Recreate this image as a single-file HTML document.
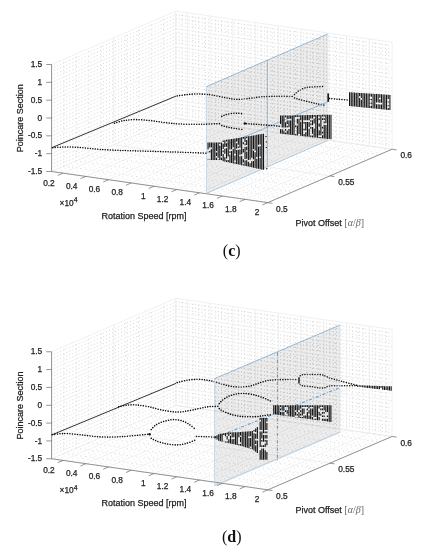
<!DOCTYPE html>
<html><head><meta charset="utf-8"><title>Figure</title>
<style>
html,body{margin:0;padding:0;background:#fff;}
body{width:428px;height:550px;overflow:hidden;position:relative;font-family:"Liberation Sans",sans-serif;}
svg{position:absolute;left:0;top:0;display:block;}
.tk{font-family:"Liberation Sans",sans-serif;font-size:8.3px;fill:#222;stroke:#222;stroke-width:0.25px;}
.lb{font-family:"Liberation Sans",sans-serif;font-size:9px;fill:#222;stroke:#222;stroke-width:0.25px;}
.mi{font-family:"Liberation Serif","DejaVu Serif",serif;font-style:italic;font-size:10px;fill:#666;stroke:none;}
.mr{font-family:"Liberation Serif",serif;font-size:10px;fill:#666;stroke:none;}
.cap{font-family:"Liberation Serif",serif;font-size:16px;fill:#111;}
</style></head><body>
<svg width="428" height="550" viewBox="0 0 428 550">
<rect width="428" height="550" fill="#fff"/>
<defs><path id="minor" d="M176.03,118.12 L176.03,11.12M181.71,118.94 L181.71,11.94M193.09,120.57 L193.09,13.57M198.77,121.39 L198.77,14.39M204.46,122.21 L204.46,15.21M215.83,123.84 L215.83,16.84M221.52,124.66 L221.52,17.66M227.2,125.48 L227.2,18.48M238.57,127.12 L238.57,20.12M244.26,127.93 L244.26,20.93M249.95,128.75 L249.95,21.75M261.32,130.39 L261.32,23.39M267.01,131.21 L267.01,24.21M272.69,132.02 L272.69,25.02M284.06,133.66 L284.06,26.66M289.75,134.48 L289.75,27.48M295.44,135.3 L295.44,28.3M306.81,136.93 L306.81,29.93M312.49,137.75 L312.49,30.75M318.18,138.57 L318.18,31.57M329.55,140.2 L329.55,33.2M335.24,141.02 L335.24,34.02M340.93,141.84 L340.93,34.84M352.3,143.47 L352.3,36.47M357.98,144.29 L357.98,37.29M363.67,145.11 L363.67,38.11M375.04,146.75 L375.04,39.75M380.73,147.56 L380.73,40.56M386.41,148.38 L386.41,41.38M64.03,166.16 L64.03,59.16M76.46,160.82 L76.46,53.82M88.89,155.48 L88.89,48.48M101.32,150.14 L101.32,43.14M126.18,139.46 L126.18,32.46M138.61,134.12 L138.61,27.12M151.04,128.78 L151.04,21.78M163.47,123.44 L163.47,16.44" fill="none" stroke-width="0.95" stroke-linecap="round" stroke-dasharray="0.01 4.7"/><path id="slope" d="M175.9,114.53 L392.1,145.63M51.6,167.93 L175.9,114.53M175.9,110.97 L392.1,142.07M51.6,164.37 L175.9,110.97M175.9,107.4 L392.1,138.5M51.6,160.8 L175.9,107.4M175.9,103.83 L392.1,134.93M51.6,157.23 L175.9,103.83M175.9,96.7 L392.1,127.8M51.6,150.1 L175.9,96.7M175.9,93.13 L392.1,124.23M51.6,146.53 L175.9,93.13M175.9,89.57 L392.1,120.67M51.6,142.97 L175.9,89.57M175.9,86 L392.1,117.1M51.6,139.4 L175.9,86M175.9,78.87 L392.1,109.97M51.6,132.27 L175.9,78.87M175.9,75.3 L392.1,106.4M51.6,128.7 L175.9,75.3M175.9,71.73 L392.1,102.83M51.6,125.13 L175.9,71.73M175.9,68.17 L392.1,99.27M51.6,121.57 L175.9,68.17M175.9,61.03 L392.1,92.13M51.6,114.43 L175.9,61.03M175.9,57.47 L392.1,88.57M51.6,110.87 L175.9,57.47M175.9,53.9 L392.1,85M51.6,107.3 L175.9,53.9M175.9,50.33 L392.1,81.43M51.6,103.73 L175.9,50.33M175.9,43.2 L392.1,74.3M51.6,96.6 L175.9,43.2M175.9,39.63 L392.1,70.73M51.6,93.03 L175.9,39.63M175.9,36.07 L392.1,67.17M51.6,89.47 L175.9,36.07M175.9,32.5 L392.1,63.6M51.6,85.9 L175.9,32.5M175.9,25.37 L392.1,56.47M51.6,78.77 L175.9,25.37M175.9,21.8 L392.1,52.9M51.6,75.2 L175.9,21.8M175.9,18.23 L392.1,49.33M51.6,71.63 L175.9,18.23M175.9,14.67 L392.1,45.77M51.6,68.07 L175.9,14.67" fill="none" stroke-width="0.95" stroke-linecap="round" stroke-dasharray="0.01 3.3"/><path id="floor" d="M51.73,171.52 L176.03,118.12M57.41,172.34 L181.71,118.94M68.79,173.97 L193.09,120.57M74.47,174.79 L198.77,121.39M80.16,175.61 L204.46,122.21M91.53,177.24 L215.83,123.84M97.22,178.06 L221.52,124.66M102.9,178.88 L227.2,125.48M114.28,180.52 L238.57,127.12M119.96,181.33 L244.26,127.93M125.65,182.15 L249.95,128.75M137.02,183.79 L261.32,130.39M142.71,184.61 L267.01,131.21M148.39,185.42 L272.69,132.02M159.76,187.06 L284.06,133.66M165.45,187.88 L289.75,134.48M171.14,188.7 L295.44,135.3M182.51,190.33 L306.81,136.93M188.19,191.15 L312.49,137.75M193.88,191.97 L318.18,138.57M205.25,193.6 L329.55,140.2M210.94,194.42 L335.24,141.02M216.62,195.24 L340.93,141.84M228,196.87 L352.3,143.47M233.68,197.69 L357.98,144.29M239.37,198.51 L363.67,145.11M250.74,200.15 L375.04,146.75M256.43,200.96 L380.73,147.56M262.11,201.78 L386.41,148.38M64.03,166.16 L280.23,197.26M76.46,160.82 L292.66,191.92M88.89,155.48 L305.09,186.58M101.32,150.14 L317.52,181.24M126.18,139.46 L342.38,170.56M138.61,134.12 L354.81,165.22M151.04,128.78 L367.24,159.88M163.47,123.44 L379.67,154.54" fill="none" stroke-width="0.95" stroke-linecap="round" stroke-dasharray="0.01 4.3"/></defs>
<g>
<use href="#minor" stroke="#c8c8c8"/>
<use href="#slope" stroke="#c8c8c8"/>
<use href="#floor" stroke="#d6d6d6"/>
<path d="M187.4,119.75 L187.4,12.75M63.1,173.15 L187.4,119.75M210.14,123.03 L210.14,16.03M85.84,176.43 L210.14,123.03M232.89,126.3 L232.89,19.3M108.59,179.7 L232.89,126.3M255.63,129.57 L255.63,22.57M131.33,182.97 L255.63,129.57M278.38,132.84 L278.38,25.84M154.08,186.24 L278.38,132.84M301.12,136.11 L301.12,29.11M176.82,189.51 L301.12,136.11M323.87,139.38 L323.87,32.38M199.57,192.78 L323.87,139.38M346.61,142.66 L346.61,35.66M222.31,196.06 L346.61,142.66M369.36,145.93 L369.36,38.93M245.06,199.33 L369.36,145.93M392.1,149.2 L392.1,42.2M267.8,202.6 L392.1,149.2M175.9,118.1 L392.1,149.2M51.6,171.5 L175.9,118.1M175.9,100.27 L392.1,131.37M51.6,153.67 L175.9,100.27M175.9,82.43 L392.1,113.53M51.6,135.83 L175.9,82.43M175.9,64.6 L392.1,95.7M51.6,118 L175.9,64.6M175.9,46.77 L392.1,77.87M51.6,100.17 L175.9,46.77M175.9,28.93 L392.1,60.03M51.6,82.33 L175.9,28.93M175.9,11.1 L392.1,42.2M51.6,64.5 L175.9,11.1M51.6,171.5 L51.6,64.5M51.6,171.5 L267.8,202.6M113.75,144.8 L113.75,37.8M113.75,144.8 L329.95,175.9M175.9,118.1 L175.9,11.1M175.9,118.1 L392.1,149.2" fill="none" stroke="#eaeaea" stroke-width="0.7"/>
<path d="M51.6,64.5 L51.6,171.5 L267.8,202.6 L392.1,149.2" fill="none" stroke="#6a6a6a" stroke-width="0.7"/>
<path d="M51.6,171.5 L46.2,171.5M51.6,153.67 L46.2,153.67M51.6,135.83 L46.2,135.83M51.6,118 L46.2,118M51.6,100.17 L46.2,100.17M51.6,82.33 L46.2,82.33M51.6,64.5 L46.2,64.5M63.1,173.15 L57.7,175.45M85.84,176.43 L80.44,178.73M108.59,179.7 L103.19,182M131.33,182.97 L125.93,185.27M154.08,186.24 L148.68,188.54M176.82,189.51 L171.42,191.81M199.57,192.78 L194.17,195.08M222.31,196.06 L216.91,198.36M245.06,199.33 L239.66,201.63M267.8,202.6 L262.4,204.9M267.8,202.6 L272.4,203.3M329.95,175.9 L334.55,176.6M392.1,149.2 L396.7,149.9" fill="none" stroke="#6a6a6a" stroke-width="0.7"/>
<text x="42.2" y="174.1" text-anchor="end" class="tk">-1.5</text>
<text x="42.2" y="156.27" text-anchor="end" class="tk">-1</text>
<text x="42.2" y="138.43" text-anchor="end" class="tk">-0.5</text>
<text x="42.2" y="120.6" text-anchor="end" class="tk">0</text>
<text x="42.2" y="102.77" text-anchor="end" class="tk">0.5</text>
<text x="42.2" y="84.93" text-anchor="end" class="tk">1</text>
<text x="42.2" y="67.1" text-anchor="end" class="tk">1.5</text>
<text x="54.7" y="185.55" text-anchor="end" class="tk">0.2</text>
<text x="77.44" y="188.83" text-anchor="end" class="tk">0.4</text>
<text x="100.19" y="192.1" text-anchor="end" class="tk">0.6</text>
<text x="122.93" y="195.37" text-anchor="end" class="tk">0.8</text>
<text x="145.68" y="198.64" text-anchor="end" class="tk">1</text>
<text x="168.42" y="201.91" text-anchor="end" class="tk">1.2</text>
<text x="191.17" y="205.18" text-anchor="end" class="tk">1.4</text>
<text x="213.91" y="208.46" text-anchor="end" class="tk">1.6</text>
<text x="236.66" y="211.73" text-anchor="end" class="tk">1.8</text>
<text x="259.4" y="215" text-anchor="end" class="tk">2</text>
<text x="276.1" y="211.8" text-anchor="start" class="tk">0.5</text>
<text x="338.25" y="185.1" text-anchor="start" class="tk">0.55</text>
<text x="400.4" y="158.4" text-anchor="start" class="tk">0.6</text>
<text x="59.6" y="205.8" class="tk">×10<tspan dy="-3.4" font-size="6.8">4</tspan></text>
<text x="144" y="218.6" text-anchor="middle" class="lb">Rotation Speed [rpm]</text>
<text x="295.5" y="225.8" class="lb">Pivot Offset <tspan class="mr">[</tspan><tspan class="mi">α</tspan><tspan class="mr">/</tspan><tspan class="mi">β</tspan><tspan class="mr">]</tspan></text>
<text transform="translate(23.3,118.3) rotate(-90)" text-anchor="middle" class="lb">Poincare Section</text>
<line x1="51.5" y1="147.8" x2="176" y2="96.1" stroke="#333" stroke-width="1" />
<path d="M177.2,95.9 C178.67,95.7 183.03,95.02 186,94.7 C188.97,94.38 192,94.08 195,94 C198,93.92 201.17,94.03 204,94.2 C206.83,94.37 208.33,94.4 212,95 C215.67,95.6 221.83,97.07 226,97.8 C230.17,98.53 233,99.32 237,99.4 C241,99.48 245.83,98.73 250,98.3 C254.17,97.87 257.33,97.13 262,96.8 C266.67,96.47 272.77,96.35 278,96.3 C283.23,96.25 290.83,96.47 293.4,96.5" stroke="#0a0a0a" stroke-width="1.55" stroke-linecap="round" stroke-dasharray="0.01 2.5" fill="none"/>
<path d="M294.5,94.5 C295.08,93.97 296.58,92.28 298,91.3 C299.42,90.32 301.33,89.27 303,88.6 C304.67,87.93 305.83,87.6 308,87.3 C310.17,87 313.17,86.93 316,86.8 C318.83,86.67 323.5,86.55 325,86.5" stroke="#0a0a0a" stroke-width="1.55" stroke-linecap="round" stroke-dasharray="0.01 2.5" fill="none"/>
<path d="M294.5,98 C295.42,98.27 297.42,98.9 300,99.6 C302.58,100.3 307,101.47 310,102.2 C313,102.93 315.33,103.45 318,104 C320.67,104.55 324.67,105.25 326,105.5" stroke="#0a0a0a" stroke-width="1.55" stroke-linecap="round" stroke-dasharray="0.01 2.5" fill="none"/>
<path d="M329.5,98.6 C330.92,98.72 334.82,99.07 338,99.3 C341.18,99.53 346.83,99.88 348.6,100" stroke="#0a0a0a" stroke-width="1.55" stroke-linecap="round" stroke-dasharray="0.01 2.5" fill="none"/>
<path d="M349.56,92.24V106.06M351.24,92.35V106.22M352.92,92.46V106.39M354.6,92.57V106.55M356.28,92.68V106.72M357.96,92.79V106.89M359.64,92.9V96.3M359.64,98V107.05M361.32,93.01V98.11M361.32,99.81V107.22M363,93.12V107.39M364.68,93.24V107.55M366.36,93.35V107.72M368.04,93.46V107.89M369.72,93.57V108.05M371.4,93.68V97.08M371.4,98.78V108.22M373.08,93.79V108.39M374.76,93.9V108.55M376.44,94.01V102.51M376.44,104.21V108.72M378.12,94.12V102.62M378.12,104.32V108.88M379.8,94.23V97.63M379.8,99.33V102.73M379.8,104.43V109.05M381.48,94.34V102.84M381.48,104.54V109.22M383.16,94.46V109.38M384.84,94.57V109.55M386.52,94.68V109.72M388.2,94.79V109.88M389.88,94.9V110.05" stroke="#111" stroke-width="1.12" fill="none"/>
<path d="M370.7,96.5V106M388.2,99V108" stroke="#f4f4f4" stroke-width="1.9" stroke-dasharray="2.6 1"/>
<clipPath id="cp1"><polygon points="206.5,86.6 327.9,33.9 327.9,140.4 206.5,193.4"/></clipPath><polygon points="206.5,86.6 327.9,33.9 327.9,140.4 206.5,193.4" fill="rgba(100,100,100,0.12)"/><g clip-path="url(#cp1)"><use href="#minor" stroke="#c2c2c2"/><use href="#slope" stroke="#c2c2c2"/></g><line x1="206.5" y1="86.6" x2="327.9" y2="33.9" stroke="#7daacf" stroke-width="0.8" /><line x1="206.5" y1="193.4" x2="327.9" y2="140.4" stroke="#9fc0da" stroke-width="0.8" /><line x1="206.5" y1="86.6" x2="206.5" y2="193.4" stroke="#c3d3df" stroke-width="0.8" /><line x1="327.9" y1="33.9" x2="327.9" y2="140.4" stroke="#dde3e8" stroke-width="0.8" />
<line x1="267.3" y1="60.3" x2="267.3" y2="167" stroke="#7daacf" stroke-width="0.8" />
<line x1="206.2" y1="152.8" x2="327.9" y2="101.8" stroke="#7daacf" stroke-width="0.8" />
<line x1="328.2" y1="93.4" x2="328.2" y2="101.8" stroke="#1a1a1a" stroke-width="1.7" />
<path d="M114.5,123.2 C116.08,122.77 120.5,121.2 124,120.6 C127.5,120 131.17,119.6 135.5,119.6 C139.83,119.6 145.08,120.1 150,120.6 C154.92,121.1 160,122.03 165,122.6 C170,123.17 174.17,123.72 180,124 C185.83,124.28 193.33,124.37 200,124.3 C206.67,124.23 216.67,123.72 220,123.6" stroke="#0a0a0a" stroke-width="1.55" stroke-linecap="round" stroke-dasharray="0.01 2.5" fill="none"/>
<path d="M221.8,116.4 C222.5,116.1 224.3,115.1 226,114.6 C227.7,114.1 230,113.63 232,113.4 C234,113.17 236.23,113.13 238,113.2 C239.77,113.27 241.83,113.7 242.6,113.8" stroke="#0a0a0a" stroke-width="1.55" stroke-linecap="round" stroke-dasharray="0.01 2.5" fill="none"/>
<path d="M221.8,125.6 C222.83,125.87 225.63,126.7 228,127.2 C230.37,127.7 233.5,128.2 236,128.6 C238.5,129 241.83,129.43 243,129.6" stroke="#0a0a0a" stroke-width="1.55" stroke-linecap="round" stroke-dasharray="0.01 2.5" fill="none"/>
<circle cx="244.8" cy="123.5" r="1.2" fill="#111"/>
<path d="M246.5,123.6 C248.75,123.77 254.5,124.17 260,124.6 C265.5,125.03 276.25,125.93 279.5,126.2" stroke="#0a0a0a" stroke-width="1.55" stroke-linecap="round" stroke-dasharray="0.01 2.5" fill="none"/>
<path d="M280.56,115.59V124.09M280.56,129.19V133.56M282.24,115.56V127.46M282.24,129.16V133.75M283.92,115.53V127.43M283.92,130.83V133.95M285.6,115.5V117.2M285.6,122.3V127.4M285.6,129.1V130.8M285.6,132.5V134.14M287.28,115.47V118.87M287.28,120.57V123.97M287.28,125.67V127.37M287.28,130.77V134.33M288.96,115.44V118.84M288.96,120.54V127.34M288.96,129.04V134.52M290.64,115.41V118.81M290.64,120.51V134.71M292.32,115.38V134.9M294,115.35V135.09M295.68,115.32V117.02M295.68,125.52V127.22M295.68,134.02V135.28M297.36,115.29V116.99M297.36,118.69V123.79M297.36,125.49V135.47M299.04,115.26V116.96M299.04,118.66V133.96M299.04,135.66V135.67M300.72,115.23V120.33M300.72,122.03V135.86M302.4,115.2V136.05M304.08,115.18V120.28M304.08,121.98V123.68M304.08,128.78V130.48M304.08,133.88V136.24M305.76,115.15V120.25M305.76,121.95V130.45M305.76,132.15V136.43M307.44,115.12V120.22M307.44,121.92V136.62M309.12,115.09V120.19M309.12,121.89V126.99M309.12,128.69V136.81M310.8,115.06V118.46M310.8,120.16V121.86M310.8,123.56V125.26M310.8,126.96V128.66M310.8,135.46V137M312.48,115.03V118.43M312.48,120.13V125.23M312.48,126.93V133.73M312.48,135.43V137.19M314.16,115V116.7M314.16,118.4V123.5M314.16,128.6V137.38M315.84,114.97V137.58M317.52,114.94V137.77M319.2,114.91V116.61M319.2,118.31V120.01M319.2,123.41V126.81M319.2,130.21V135.31M319.2,137.01V137.96M320.88,114.88V135.28M320.88,136.98V138.15M322.56,114.85V116.55M322.56,118.25V119.95M322.56,126.75V128.45M322.56,131.85V133.55M322.56,135.25V138.34M324.24,114.82V116.52M324.24,118.22V119.92M324.24,121.62V123.32M324.24,125.02V138.53M325.92,114.79V123.29M325.92,124.99V138.72M327.6,114.76V138.91M329.28,114.73V139.1M330.96,114.7V139.3" stroke="#111" stroke-width="1.12" fill="none"/>
<path d="M52.8,147.7 C54,147.62 57.13,147.32 60,147.2 C62.87,147.08 66,146.9 70,147 C74,147.1 79,147.4 84,147.8 C89,148.2 94,148.97 100,149.4 C106,149.83 113.33,150.13 120,150.4 C126.67,150.67 133.33,150.8 140,151 C146.67,151.2 153.33,151.4 160,151.6 C166.67,151.8 172.25,151.93 180,152.2 C187.75,152.47 202.08,153.03 206.5,153.2" stroke="#0a0a0a" stroke-width="1.55" stroke-linecap="round" stroke-dasharray="0.01 2.5" fill="none"/>
<path d="M208.06,142.4V149.2M208.06,159.4V160M209.74,142.4V147.5M209.74,150.9V152.6M209.74,159.4V160M211.42,142.4V147.5M211.42,149.2V160M213.1,142.4V160M214.78,142.4V160M216.46,142.4V150.9M216.46,152.6V156M216.46,157.7V160M218.14,142.4V157.7M218.14,159.4V160M219.82,142.4V144.1M219.82,145.8V160M221.5,142.4V156M221.5,157.7V160M223.18,140.42V142.12M223.18,143.82V148.92M223.18,150.62V152.32M223.18,154.02V161.23M224.86,140.14V146.94M224.86,148.64V153.74M224.86,157.14V161.59M226.54,139.87V141.57M226.54,143.27V146.67M226.54,148.37V158.57M226.54,160.27V161.95M228.22,139.59V156.59M228.22,159.99V162.3M229.9,139.31V149.51M229.9,151.21V152.91M229.9,154.61V162.66M231.58,139.03V149.23M231.58,150.93V163.02M233.26,138.75V147.25M233.26,148.95V163.38M234.94,138.48V153.78M234.94,155.48V160.58M234.94,162.28V163.74M236.62,138.2V141.6M236.62,143.3V148.4M236.62,150.1V164.09M238.3,137.92V144.72M238.3,146.42V148.12M238.3,149.82V164.45M239.98,137.64V147.84M239.98,149.54V154.64M239.98,156.34V164.81M241.66,137.36V154.36M241.66,156.06V165.17M243.34,137.09V138.79M243.34,142.19V143.89M243.34,148.99V152.39M243.34,159.19V162.59M243.34,164.29V165.52M245.02,136.81V141.91M245.02,143.61V145.31M245.02,147.01V158.91M245.02,160.61V165.88M246.7,136.53V138.23M246.7,139.93V145.03M246.7,146.73V150.13M246.7,151.83V158.63M246.7,160.33V166.24M248.38,136.25V160.05M248.38,161.75V166.6M250.06,135.98V159.78M250.06,163.18V166.96M251.74,135.7V157.8M251.74,161.2V167.31M253.42,135.42V149.02M253.42,150.72V159.22M253.42,160.92V167.67M255.1,135.14V150.44M255.1,152.14V168.03M256.78,134.86V156.96M256.78,158.66V168.39M258.46,134.59V144.79M258.46,146.49V168.75M260.14,134.31V144.51M260.14,146.21V156.41M260.14,158.11V169.1M261.82,134.03V169.46M263.5,133.8V169.75" stroke="#111" stroke-width="1.12" fill="none"/>
<path d="M266.3,141.5v1M266.3,147v1M266.8,168v1.2M266,136v1" stroke="#111" stroke-width="1.2"/>
</g>
<g transform="translate(0,287.25)">
<use href="#minor" stroke="#c8c8c8"/>
<use href="#slope" stroke="#c8c8c8"/>
<use href="#floor" stroke="#d6d6d6"/>
<path d="M187.4,119.75 L187.4,12.75M63.1,173.15 L187.4,119.75M210.14,123.03 L210.14,16.03M85.84,176.43 L210.14,123.03M232.89,126.3 L232.89,19.3M108.59,179.7 L232.89,126.3M255.63,129.57 L255.63,22.57M131.33,182.97 L255.63,129.57M278.38,132.84 L278.38,25.84M154.08,186.24 L278.38,132.84M301.12,136.11 L301.12,29.11M176.82,189.51 L301.12,136.11M323.87,139.38 L323.87,32.38M199.57,192.78 L323.87,139.38M346.61,142.66 L346.61,35.66M222.31,196.06 L346.61,142.66M369.36,145.93 L369.36,38.93M245.06,199.33 L369.36,145.93M392.1,149.2 L392.1,42.2M267.8,202.6 L392.1,149.2M175.9,118.1 L392.1,149.2M51.6,171.5 L175.9,118.1M175.9,100.27 L392.1,131.37M51.6,153.67 L175.9,100.27M175.9,82.43 L392.1,113.53M51.6,135.83 L175.9,82.43M175.9,64.6 L392.1,95.7M51.6,118 L175.9,64.6M175.9,46.77 L392.1,77.87M51.6,100.17 L175.9,46.77M175.9,28.93 L392.1,60.03M51.6,82.33 L175.9,28.93M175.9,11.1 L392.1,42.2M51.6,64.5 L175.9,11.1M51.6,171.5 L51.6,64.5M51.6,171.5 L267.8,202.6M113.75,144.8 L113.75,37.8M113.75,144.8 L329.95,175.9M175.9,118.1 L175.9,11.1M175.9,118.1 L392.1,149.2" fill="none" stroke="#eaeaea" stroke-width="0.7"/>
<path d="M51.6,64.5 L51.6,171.5 L267.8,202.6 L392.1,149.2" fill="none" stroke="#6a6a6a" stroke-width="0.7"/>
<path d="M51.6,171.5 L46.2,171.5M51.6,153.67 L46.2,153.67M51.6,135.83 L46.2,135.83M51.6,118 L46.2,118M51.6,100.17 L46.2,100.17M51.6,82.33 L46.2,82.33M51.6,64.5 L46.2,64.5M63.1,173.15 L57.7,175.45M85.84,176.43 L80.44,178.73M108.59,179.7 L103.19,182M131.33,182.97 L125.93,185.27M154.08,186.24 L148.68,188.54M176.82,189.51 L171.42,191.81M199.57,192.78 L194.17,195.08M222.31,196.06 L216.91,198.36M245.06,199.33 L239.66,201.63M267.8,202.6 L262.4,204.9M267.8,202.6 L272.4,203.3M329.95,175.9 L334.55,176.6M392.1,149.2 L396.7,149.9" fill="none" stroke="#6a6a6a" stroke-width="0.7"/>
<text x="42.2" y="174.1" text-anchor="end" class="tk">-1.5</text>
<text x="42.2" y="156.27" text-anchor="end" class="tk">-1</text>
<text x="42.2" y="138.43" text-anchor="end" class="tk">-0.5</text>
<text x="42.2" y="120.6" text-anchor="end" class="tk">0</text>
<text x="42.2" y="102.77" text-anchor="end" class="tk">0.5</text>
<text x="42.2" y="84.93" text-anchor="end" class="tk">1</text>
<text x="42.2" y="67.1" text-anchor="end" class="tk">1.5</text>
<text x="54.7" y="185.55" text-anchor="end" class="tk">0.2</text>
<text x="77.44" y="188.83" text-anchor="end" class="tk">0.4</text>
<text x="100.19" y="192.1" text-anchor="end" class="tk">0.6</text>
<text x="122.93" y="195.37" text-anchor="end" class="tk">0.8</text>
<text x="145.68" y="198.64" text-anchor="end" class="tk">1</text>
<text x="168.42" y="201.91" text-anchor="end" class="tk">1.2</text>
<text x="191.17" y="205.18" text-anchor="end" class="tk">1.4</text>
<text x="213.91" y="208.46" text-anchor="end" class="tk">1.6</text>
<text x="236.66" y="211.73" text-anchor="end" class="tk">1.8</text>
<text x="259.4" y="215" text-anchor="end" class="tk">2</text>
<text x="276.1" y="211.8" text-anchor="start" class="tk">0.5</text>
<text x="338.25" y="185.1" text-anchor="start" class="tk">0.55</text>
<text x="400.4" y="158.4" text-anchor="start" class="tk">0.6</text>
<text x="59.6" y="205.8" class="tk">×10<tspan dy="-3.4" font-size="6.8">4</tspan></text>
<text x="144" y="218.6" text-anchor="middle" class="lb">Rotation Speed [rpm]</text>
<text x="295.5" y="225.8" class="lb">Pivot Offset <tspan class="mr">[</tspan><tspan class="mi">α</tspan><tspan class="mr">/</tspan><tspan class="mi">β</tspan><tspan class="mr">]</tspan></text>
<text transform="translate(23.3,118.3) rotate(-90)" text-anchor="middle" class="lb">Poincare Section</text>
<line x1="51.5" y1="147.8" x2="176" y2="96.1" stroke="#333" stroke-width="1" />
<path d="M177.2,95.35 C178.67,94.98 182.73,93.7 186,93.15 C189.27,92.6 193.47,92.12 196.8,92.05 C200.13,91.98 203.2,92.38 206,92.75 C208.8,93.12 210.93,93.58 213.6,94.25 C216.27,94.92 219.2,95.97 222,96.75 C224.8,97.53 227.4,98.45 230.4,98.95 C233.4,99.45 236.73,99.78 240,99.75 C243.27,99.72 247,99.35 250,98.75 C253,98.15 255.22,97.03 258,96.15 C260.78,95.27 263.87,94.05 266.7,93.45 C269.53,92.85 271.78,92.73 275,92.55 C278.22,92.37 282.17,92.38 286,92.35 C289.83,92.32 296,92.35 298,92.35" stroke="#0a0a0a" stroke-width="1.55" stroke-linecap="round" stroke-dasharray="0.01 2.5" fill="none"/>
<line x1="299" y1="89.95" x2="299" y2="96.35" stroke="#222" stroke-width="1.6" />
<path d="M300.3,88.55 C300.68,88.37 300.98,87.68 302.6,87.45 C304.22,87.22 306.93,87.15 310,87.15 C313.07,87.15 318.33,87.12 321,87.45 C323.67,87.78 324.43,88.57 326,89.15 C327.57,89.73 328.4,90.3 330.4,90.95 C332.4,91.6 335.57,92.38 338,93.05 C340.43,93.72 341.83,94.1 345,94.95 C348.17,95.8 355,97.62 357,98.15" stroke="#0a0a0a" stroke-width="1.55" stroke-linecap="round" stroke-dasharray="0.01 2.5" fill="none"/>
<path d="M300.3,97.35 C300.68,97.55 300.65,98.18 302.6,98.55 C304.55,98.92 309.1,99.18 312,99.55 C314.9,99.92 317.87,100.6 320,100.75 C322.13,100.9 323.25,100.78 324.8,100.45 C326.35,100.12 326.77,99.07 329.3,98.75 C331.83,98.43 335.38,98.58 340,98.55 C344.62,98.52 354.17,98.55 357,98.55" stroke="#0a0a0a" stroke-width="1.55" stroke-linecap="round" stroke-dasharray="0.01 2.5" fill="none"/>
<path d="M357.56,97.97V99.42M359.24,98.03V99.62M360.92,98.08V99.82M362.6,98.14V100.02M364.28,98.2V100.22M365.96,98.26V100.43M367.64,98.31V100.63M369.32,98.37V100.83M371,98.43V101.03M372.68,98.49V101.23M374.36,98.55V101.43M376.04,98.6V101.63M377.72,98.66V101.84M379.4,98.72V102.04M381.08,98.78V100.48M381.08,102.18V102.24M382.76,98.83V102.44M384.44,98.89V102.64M386.12,98.95V102.84M387.8,99.01V103.05M389.48,99.06V103.25M391.16,99.12V103.45" stroke="#111" stroke-width="1.12" fill="none"/>
<clipPath id="cp2"><polygon points="214.5,91.45 340,37.75 340,144.75 214.5,198.45"/></clipPath><polygon points="214.5,91.45 340,37.75 340,144.75 214.5,198.45" fill="rgba(100,100,100,0.12)"/><g clip-path="url(#cp2)"><use href="#minor" stroke="#c2c2c2"/><use href="#slope" stroke="#c2c2c2"/></g><line x1="214.5" y1="91.45" x2="340" y2="37.75" stroke="#7daacf" stroke-width="0.8" /><line x1="214.5" y1="198.45" x2="340" y2="144.75" stroke="#9fc0da" stroke-width="0.8" /><line x1="214.5" y1="91.45" x2="214.5" y2="198.45" stroke="#c3d3df" stroke-width="0.8" /><line x1="340" y1="37.75" x2="340" y2="144.75" stroke="#dde3e8" stroke-width="0.8" />
<line x1="277.4" y1="65.35" x2="277.4" y2="173.75" stroke="#5f9bd0" stroke-width="1.05" stroke-dasharray="3.2 1.6 0.9 1.6"/>
<line x1="214" y1="150.95" x2="338.5" y2="100.95" stroke="#5f9bd0" stroke-width="1.05" stroke-dasharray="3.2 1.6 0.9 1.6"/>
<path d="M118.7,119.45 C119.92,119.22 123.2,118.35 126,118.05 C128.8,117.75 131.83,117.43 135.5,117.65 C139.17,117.87 143.63,118.5 148,119.35 C152.37,120.2 156.8,121.83 161.7,122.75 C166.6,123.67 172.68,124.77 177.4,124.85 C182.12,124.93 185.95,123.95 190,123.25 C194.05,122.55 198.37,121.3 201.7,120.65 C205.03,120 207.15,119.62 210,119.35 C212.85,119.08 217.33,119.1 218.8,119.05" stroke="#0a0a0a" stroke-width="1.55" stroke-linecap="round" stroke-dasharray="0.01 2.5" fill="none"/>
<path d="M219.3,116.35 C219.75,115.83 220.55,114.42 222,113.25 C223.45,112.08 225.83,110.4 228,109.35 C230.17,108.3 232.6,107.48 235,106.95 C237.4,106.42 239.57,106.12 242.4,106.15 C245.23,106.18 248.73,106.5 252,107.15 C255.27,107.8 258.62,108.82 262,110.05 C265.38,111.28 270.58,113.8 272.3,114.55" stroke="#0a0a0a" stroke-width="1.55" stroke-linecap="round" stroke-dasharray="0.01 2.5" fill="none"/>
<path d="M219.3,121.35 C219.75,121.68 220.22,122.45 222,123.35 C223.78,124.25 227.33,125.85 230,126.75 C232.67,127.65 235.33,128.28 238,128.75 C240.67,129.22 243,129.45 246,129.55 C249,129.65 253,129.55 256,129.35 C259,129.15 261.33,128.72 264,128.35 C266.67,127.98 270.67,127.35 272,127.15" stroke="#0a0a0a" stroke-width="1.55" stroke-linecap="round" stroke-dasharray="0.01 2.5" fill="none"/>
<path d="M273.76,117.95V127.12M275.44,117.95V127.35M277.12,117.95V127.57M278.8,117.95V127.79M280.48,117.95V119.65M280.48,121.35V123.05M280.48,124.75V128.01M282.16,117.95V123.05M282.16,124.75V128.23M283.84,117.95V123.05M283.84,124.75V128.46M285.52,117.95V119.65M285.52,123.05V124.75M285.52,128.15V128.68M287.2,117.95V119.65M287.2,123.05V126.45M287.2,128.15V128.9M288.88,117.95V129.12M290.56,117.95V129.34M292.24,117.95V129.56M293.92,117.95V129.79M295.6,117.95V123.05M295.6,124.75V128.15M295.6,129.85V130.01M297.28,117.95V124.75M297.28,126.45V128.15M297.28,129.85V130.23M298.96,117.95V123.05M298.96,124.75V130.45M300.64,117.95V121.35M300.64,123.05V124.75M300.64,126.45V128.15M300.64,129.85V130.67M302.32,117.95V119.65M302.32,121.35V128.15M302.32,129.85V130.9M304,117.95V119.65M304,121.35V126.45M304,128.15V131.12M305.68,117.95V119.65M305.68,128.15V131.34M307.36,117.95V119.65M307.36,121.35V123.05M307.36,124.75V131.56M309.04,117.95V121.35M309.04,123.05V126.45M309.04,128.15V131.78M310.72,117.95V119.65M310.72,121.35V132.01M312.4,117.95V119.65M312.4,121.35V128.15M312.4,129.85V132.23M314.08,117.95V129.85M314.08,131.55V132.45M315.76,117.95V129.85M315.76,131.55V132.67M317.44,117.95V132.89M319.12,117.95V121.35M319.12,124.75V128.15M319.12,129.85V133.11M320.8,117.95V119.65M320.8,121.35V123.05M320.8,126.45V128.15M320.8,133.25V133.34M322.48,117.95V119.65M322.48,121.35V123.05M322.48,124.75V126.45M322.48,128.15V129.85M322.48,131.55V133.56M324.16,117.95V123.05M324.16,124.75V126.45M324.16,128.15V129.85M324.16,131.55V133.78M325.84,117.95V124.75M325.84,131.55V134M327.52,117.95V124.75M327.52,128.15V129.85M327.52,131.55V134.22M329.2,117.95V134.45M330.88,117.95V134.67" stroke="#111" stroke-width="1.12" fill="none"/>
<path d="M52.5,147.35 C53.75,147.22 57.42,146.72 60,146.55 C62.58,146.38 64,146.12 68,146.35 C72,146.58 78.67,147.4 84,147.95 C89.33,148.5 94.83,149.35 100,149.65 C105.17,149.95 110,149.9 115,149.75 C120,149.6 124.28,149.22 130,148.75 C135.72,148.28 146.08,147.25 149.3,146.95" stroke="#0a0a0a" stroke-width="1.55" stroke-linecap="round" stroke-dasharray="0.01 2.5" fill="none"/>
<circle cx="149.6" cy="146.95" r="1.2" fill="#111"/>
<path d="M151.2,142.25 C151.83,141.6 153.37,139.53 155,138.35 C156.63,137.17 158.95,135.98 161,135.15 C163.05,134.32 165.2,133.82 167.3,133.35 C169.4,132.88 171.32,132.35 173.6,132.35 C175.88,132.35 178.6,132.68 181,133.35 C183.4,134.02 185.65,134.95 188,136.35 C190.35,137.75 193.92,140.85 195.1,141.75" stroke="#0a0a0a" stroke-width="1.55" stroke-linecap="round" stroke-dasharray="0.01 2.5" fill="none"/>
<path d="M151.2,151.05 C152,151.47 153.7,152.67 156,153.55 C158.3,154.43 161.75,155.67 165,156.35 C168.25,157.03 172.17,157.62 175.5,157.65 C178.83,157.68 181.73,157.33 185,156.55 C188.27,155.77 193.42,153.55 195.1,152.95" stroke="#0a0a0a" stroke-width="1.55" stroke-linecap="round" stroke-dasharray="0.01 2.5" fill="none"/>
<path d="M196.5,149.15 C197.92,149.2 201.95,149.35 205,149.45 C208.05,149.55 213.17,149.7 214.8,149.75" stroke="#0a0a0a" stroke-width="1.55" stroke-linecap="round" stroke-dasharray="0.01 2.5" fill="none"/>
<path d="M215.36,149.07V150.92M217.04,148V152.18M218.72,146.93V153.44M220.4,146.52V153.98M222.08,146.25V154.39M223.76,145.97V147.67M223.76,154.47V154.79M225.44,145.7V149.1M225.44,154.2V155.19M227.12,145.43V147.13M227.12,148.83V152.23M227.12,153.93V155.59M228.8,145.23V148.63M228.8,152.03V155.98M230.48,145.16V146.86M230.48,148.56V156.34M232.16,145.09V150.19M232.16,151.89V156.69M233.84,145.02V150.12M233.84,151.82V157.05M235.52,144.95V157.41M237.2,144.88V157.77M238.88,144.81V149.91M238.88,156.71V158.13M240.56,144.74V148.14M240.56,149.84V154.94M240.56,156.64V158.5M242.24,144.6V158.98M243.92,144.46V159.47M245.6,144.32V159.95M247.28,144.18V160.44M248.96,144.04V149.14M248.96,150.84V160.93M250.64,143.9V149M250.64,150.7V159.2M250.64,160.9V161.41M252.32,143.76V161.9M254,142.64V144.34M254,146.04V163.21M255.68,141.37V144.77M255.68,146.47V151.57M255.68,153.27V156.67M255.68,158.37V164.6M257.36,139.69V151.59M257.36,153.29V165.72" stroke="#111" stroke-width="1.12" fill="none"/>
<path d="M260.16,130.75V132.45M260.16,134.15V142.65M260.16,144.35V159.65M260.16,163.05V172.55M261.84,130.75V142.65M261.84,144.35V151.15M261.84,152.85V154.55M261.84,157.95V159.65M261.84,161.35V172.55M263.52,130.75V146.05M263.52,147.75V154.55M263.52,157.95V159.65M263.52,161.35V172.55M265.2,130.75V142.65M265.2,144.35V146.05M265.2,147.75V151.15M265.2,152.85V154.55M265.2,156.25V159.65M265.2,163.05V172.55M266.88,130.75V134.15M266.88,135.85V142.65M266.88,144.35V146.05M266.88,147.75V151.15M266.88,152.85V157.95M266.88,164.75V172.55" stroke="#111" stroke-width="1.12" fill="none"/>
</g>
<text x="231.7" y="255.6" text-anchor="middle" class="cap">(<tspan font-weight="bold">c</tspan>)</text>
<text x="231.8" y="542" text-anchor="middle" class="cap">(<tspan font-weight="bold">d</tspan>)</text>
</svg>
</body></html>
